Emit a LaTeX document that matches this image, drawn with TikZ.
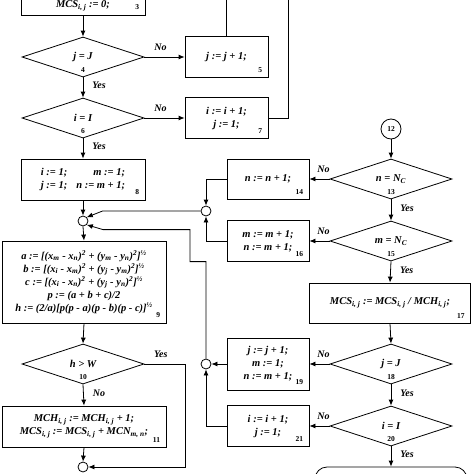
\documentclass[tikz,border=0pt]{standalone}
\usepackage{fontspec}
\setmainfont{Liberation Serif}
\usetikzlibrary{shapes.geometric, positioning, arrows.meta, calc}

\newcommand{\sbs}[1]{\textsubscript{#1}}
\newcommand{\sps}[1]{\textsuperscript{#1}}

\begin{document}
\begin{tikzpicture}[
        x=1pt, y=-1pt,
        line width=0.8pt,
        >={Latex[length=6pt, width=5pt]}, % Arrow style
        % Define node styles
        process/.style={draw, rectangle, align=center, inner sep=2pt, font=\fontsize{10.5}{13}\selectfont\bfseries\itshape},
        decision/.style={draw, diamond, aspect=3, minimum width=122pt, minimum height=40pt, inner sep=0pt, font=\fontsize{10.5}{13}\selectfont\bfseries\itshape},
        terminal/.style={draw, rectangle, rounded corners=12pt, minimum width=152pt, minimum height=46pt},
        junction/.style={draw, circle, minimum size=10pt, inner sep=0pt},
        connector/.style={draw, circle, minimum size=20pt, inner sep=0pt, font=\fontsize{7.5}{9}\selectfont\bfseries},
        tag/.style={inner xsep=6pt, inner ysep=5pt, anchor=south east, font=\fontsize{7.5}{9}\selectfont\bfseries},
        dtag/.style={inner sep=0pt, font=\fontsize{7.5}{9}\selectfont\bfseries},
        answer/.style={inner sep=1pt, font=\fontsize{10}{12}\selectfont\bfseries\itshape}
    ]

    \useasboundingbox (0,0) rectangle (474,474);
    \clip (0,0) rectangle (474,474);

    % --- Left column ---

    \node[process, minimum width=124pt, minimum height=19pt] (b3) at (83,5.5) {MCS\sbs{i, j} := 0;};
    \node[tag] (t3) at (b3.south east) {3};

    \node[decision] (d4) at (83,57) {j = J};
    \node[dtag] (t4) at ($(d4)+(0,13)$) {4};

    \node[decision] (d6) at (83,118) {i = I};
    \node[dtag] (t6) at ($(d6)+(0,13)$) {6};

    \node[process, minimum width=124pt, minimum height=41pt] (b8) at (83,179.5)
        {\begin{tabular}{@{}r@{\hspace{9pt}}r@{}} i := 1; & m := 1;\\ j := 1; & n := m + 1;\end{tabular}};
    \node[tag] (t8) at (b8.south east) {8};

    \node[junction] (cA) at (83,221) {};

    \node[process, minimum width=164pt, minimum height=82pt] (b9) at (84,282)
        {a := [(x\sbs{m} - x\sbs{n})\sps{2} + (y\sbs{m} - y\sbs{n})\sps{2}]\sps{½}\\
         b := [(x\sbs{i} - x\sbs{m})\sps{2} + (y\sbs{j} - y\sbs{m})\sps{2}]\sps{½}\\
         c := [(x\sbs{i} - x\sbs{n})\sps{2} + (y\sbs{j} - y\sbs{n})\sps{2}]\sps{½}\\
         p := (a + b + c)/2\\
         h := (2/a)[p(p - a)(p - b)(p - c)]\sps{½}};
    \node[tag] (t9) at (b9.south east) {9};

    \node[decision] (d10) at (83,364) {h > W};
    \node[dtag] (t10) at ($(d10)+(0,13)$) {10};

    \node[process, minimum width=164pt, minimum height=41pt] (b11) at (84,426.5)
        {MCH\sbs{i, j} := MCH\sbs{i, j} + 1;\\ MCS\sbs{i, j} := MCS\sbs{i, j} + MCN\sbs{m, n};};
    \node[tag] (t11) at (b11.south east) {11};

    \node[junction] (cE) at (83,467) {};

    % --- Middle column ---

    \node[process, minimum width=83pt, minimum height=41pt] (b5) at (226.5,57) {j := j + 1;};
    \node[tag] (t5) at (b5.south east) {5};

    \node[process, minimum width=83pt, minimum height=41pt] (b7) at (226.5,118) {i := i + 1;\\ j := 1;};
    \node[tag] (t7) at (b7.south east) {7};

    \node[process, minimum width=82pt, minimum height=40pt] (b14) at (268,179) {n := n + 1;};
    \node[tag] (t14) at (b14.south east) {14};

    \node[junction] (cB) at (206,211) {};

    \node[process, minimum width=82pt, minimum height=41pt] (b16) at (268,241) {m := m + 1;\\ n := m + 1;};
    \node[tag] (t16) at (b16.south east) {16};

    \node[process, minimum width=82pt, minimum height=52pt] (b19) at (268,364) {j := j + 1;\\ m := 1;\\ n := m + 1;};
    \node[tag] (t19) at (b19.south east) {19};

    \node[junction] (cC) at (206,364) {};

    \node[process, minimum width=82pt, minimum height=41pt] (b21) at (268,426) {i := i + 1;\\ j := 1;};
    \node[tag] (t21) at (b21.south east) {21};

    % --- Right column ---

    \node[connector] (c12) at (391,129) {12};

    \node[decision] (d13) at (391,179) {n = N\sbs{C}};
    \node[dtag] (t13) at ($(d13)+(0,13)$) {13};

    \node[decision] (d15) at (391,241) {m = N\sbs{C}};
    \node[dtag] (t15) at ($(d15)+(0,13)$) {15};

    \node[process, minimum width=161pt, minimum height=40pt] (b17) at (390,303) {MCS\sbs{i, j} := MCS\sbs{i, j} / MCH\sbs{i, j};};
    \node[tag] (t17) at (b17.south east) {17};

    \node[decision] (d18) at (391,364) {j = J};
    \node[dtag] (t18) at ($(d18)+(0,13)$) {18};

    \node[decision] (d20) at (391,426) {i = I};
    \node[dtag] (t20) at ($(d20)+(0,13)$) {20};

    \node[terminal] (b22) at (391,490) {};

    \coordinate (up5) at (226.5,-30);
    \coordinate (up7) at (288,-30);

    % --- Connecting Lines ---

    % left column
    \draw[->] (b3) -- (d4);
    \draw[->] (d4.east) -- node[answer, above=5pt, pos=0.4] {No} (b5.west);
    \draw (b5.north) -- (up5);
    \draw[->] (d4.south) -- node[answer, right=8pt, pos=0.4] {Yes} (d6.north);
    \draw[->] (d6.east) -- node[answer, above=5pt, pos=0.4] {No} (b7.west);
    \draw (b7.east) -| (up7);
    \draw[->] (d6.south) -- node[answer, right=8pt, pos=0.4] {Yes} (b8.north);
    \draw[->] (b8.south) -- (cA.north);
    \draw[->] (cA.south) -- (b9.north);
    \draw[->] (b9.south) -- (d10.north);
    \draw[->] (d10.south) -- node[answer, right=8pt, pos=0.4] {No} (b11.north);
    \draw[->] (d10.east) -- node[answer, above=5pt, pos=0.4] {Yes} ++(41,0) |- (cE.east);
    \draw[->] (b11.south) -- (cE.north);

    % return loops
    \draw[->] (cB.west) -- ++(-98,0) -- (cA.north east);
    \draw[->] (cC.north) -- ++(0,-97) -- ++(-16,0) -- ++(0,-32) -- ++(-87,0) -- (cA.south east);

    % right column
    \draw[->] (c12) -- (d13);
    \draw[->] (d13.west) -- node[answer, above=5pt, pos=0.3] {No} (b14.east);
    \draw[->] (b14.west) -| (cB.north);
    \draw[->] (d13.south) -- node[answer, right=8pt, pos=0.4] {Yes} (d15.north);
    \draw[->] (d15.west) -- node[answer, above=5pt, pos=0.3] {No} (b16.east);
    \draw[->] (b16.west) -| (cB.south);
    \draw[->] (d15.south) -- node[answer, right=8pt, pos=0.4] {Yes} (b17.north);
    \draw[->] (b17.south) -- (d18.north);
    \draw[->] (d18.west) -- node[answer, above=5pt, pos=0.3] {No} (b19.east);
    \draw[->] (b19.west) -- (cC.east);
    \draw[->] (d18.south) -- node[answer, right=8pt, pos=0.4] {Yes} (d20.north);
    \draw[->] (d20.west) -- node[answer, above=5pt, pos=0.3] {No} (b21.east);
    \draw[->] (b21.west) -| (cC.south);
    \draw[->] (d20.south) -- node[answer, right=8pt, pos=0.4] {Yes} (b22.north);

\end{tikzpicture}
\end{document}
